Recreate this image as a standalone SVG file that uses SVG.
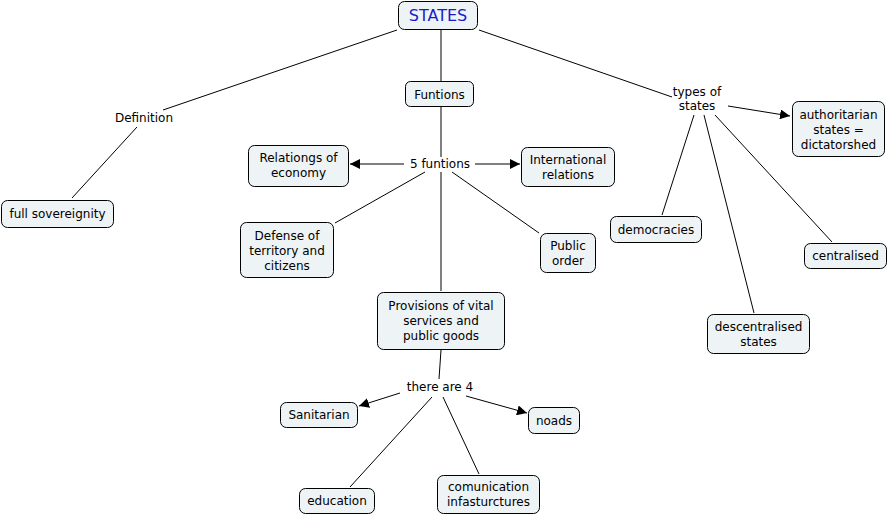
<svg xmlns="http://www.w3.org/2000/svg" width="889" height="517" viewBox="0 0 889 517">
<defs>
<marker id="arr" viewBox="0 0 10 10" refX="10" refY="5" markerWidth="10" markerHeight="10" markerUnits="userSpaceOnUse" orient="auto"><path d="M0,0 L10,5 L0,10 z" fill="#000"/></marker>
<style>
.box{fill:#eef3f6;stroke:#000;stroke-width:1}
text{font-family:"DejaVu Sans",Verdana,sans-serif;font-size:12px;fill:#000;text-anchor:middle}
.title{font-size:16px;fill:#1a1acc}
.c line{stroke:#000;stroke-width:1}
</style>
</defs>
<rect width="889" height="517" fill="#fff"/>
<g class="c" id="connectors">
<line x1="397" y1="30" x2="163" y2="110"/>
<line x1="137" y1="127" x2="72" y2="198"/>
<line x1="441" y1="30" x2="441" y2="81"/>
<line x1="479" y1="30" x2="672" y2="97"/>
<line x1="441" y1="106" x2="441" y2="157"/>
<line x1="404" y1="164" x2="350" y2="164" marker-end="url(#arr)"/>
<line x1="475" y1="164" x2="520" y2="164" marker-end="url(#arr)"/>
<line x1="425" y1="172" x2="335" y2="223"/>
<line x1="452" y1="172" x2="539" y2="233"/>
<line x1="441" y1="172" x2="441" y2="291"/>
<line x1="441" y1="350" x2="439" y2="379"/>
<line x1="400" y1="393" x2="359" y2="406" marker-end="url(#arr)"/>
<line x1="466" y1="396" x2="527" y2="413" marker-end="url(#arr)"/>
<line x1="432" y1="397" x2="350" y2="487"/>
<line x1="443" y1="397" x2="479" y2="474"/>
<line x1="728" y1="106" x2="790" y2="116" marker-end="url(#arr)"/>
<line x1="694" y1="115" x2="662" y2="215"/>
<line x1="704" y1="115" x2="754" y2="313"/>
<line x1="715" y1="115" x2="832" y2="242"/>
</g>
<g id="states"><rect class="box" x="398.5" y="1.5" width="79" height="28" rx="6"/><text class="title" x="438" y="21">STATES</text></g>
<g id="funtions"><rect class="box" x="405.5" y="81.5" width="68" height="25" rx="5"/><text x="439.5" y="98.5">Funtions</text></g>
<g id="definition"><text x="144" y="122">Definition</text></g>
<g id="full"><rect class="box" x="1.5" y="200.5" width="112" height="27" rx="6"/><text x="57.5" y="218">full sovereignity</text></g>
<g id="types"><text x="697" y="96">types of</text><text x="697" y="110">states</text></g>
<g id="auth"><rect class="box" x="792.5" y="101.5" width="92" height="55" rx="6"/><text x="838.5" y="119">authoritarian</text><text x="838.5" y="134">states =</text><text x="838.5" y="149">dictatorshed</text></g>
<g id="five"><text x="440" y="168">5 funtions</text></g>
<g id="rel"><rect class="box" x="248.5" y="145.5" width="100" height="41" rx="6"/><text x="298.5" y="162">Relationgs of</text><text x="298.5" y="177">economy</text></g>
<g id="intl"><rect class="box" x="521.5" y="147.5" width="93" height="39" rx="6"/><text x="568" y="164">International</text><text x="568" y="179">relations</text></g>
<g id="defense"><rect class="box" x="240.5" y="222.5" width="93" height="55" rx="6"/><text x="287" y="240">Defense of</text><text x="287" y="255">territory and</text><text x="287" y="270">citizens</text></g>
<g id="public"><rect class="box" x="540.5" y="233.5" width="55" height="39" rx="6"/><text x="568" y="250">Public</text><text x="568" y="265">order</text></g>
<g id="democracies"><rect class="box" x="610.5" y="216.5" width="91" height="26" rx="6"/><text x="656" y="234">democracies</text></g>
<g id="centralised"><rect class="box" x="804.5" y="243.5" width="82" height="25" rx="6"/><text x="845.5" y="260">centralised</text></g>
<g id="descentralised"><rect class="box" x="707.5" y="314.5" width="102" height="39" rx="6"/><text x="758.5" y="331">descentralised</text><text x="758.5" y="346">states</text></g>
<g id="provisions"><rect class="box" x="377.5" y="292.5" width="127" height="57" rx="6"/><text x="441" y="310">Provisions of vital</text><text x="441" y="325">services and</text><text x="441" y="340">public goods</text></g>
<g id="there"><text x="440" y="391">there are 4</text></g>
<g id="sanitarian"><rect class="box" x="280.5" y="402.5" width="77" height="25" rx="6"/><text x="319" y="419">Sanitarian</text></g>
<g id="noads"><rect class="box" x="528.5" y="407.5" width="51" height="26" rx="6"/><text x="554" y="425">noads</text></g>
<g id="education"><rect class="box" x="299.5" y="488.5" width="75" height="25" rx="6"/><text x="337" y="505">education</text></g>
<g id="comunication"><rect class="box" x="437.5" y="475.5" width="102" height="38" rx="6"/><text x="488.5" y="491">comunication</text><text x="488.5" y="506">infasturctures</text></g>
</svg>
